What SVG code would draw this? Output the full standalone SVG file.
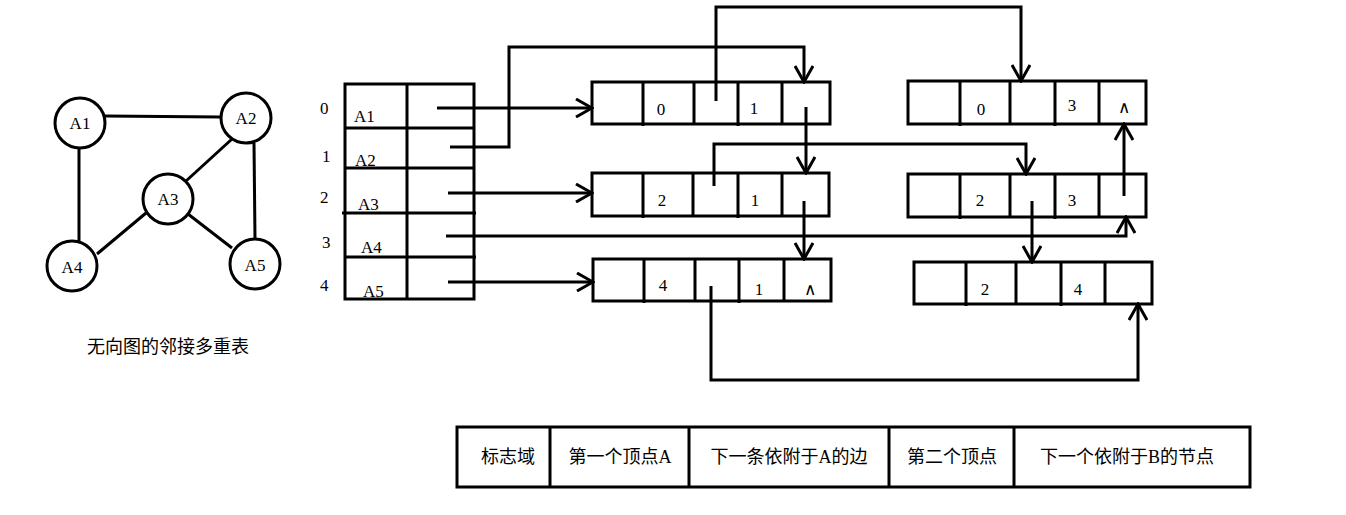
<svg xmlns="http://www.w3.org/2000/svg" width="1346" height="515" viewBox="0 0 1346 515">
<defs>
<style>
.b{fill:none;stroke:#000;stroke-width:3}
.l{fill:none;stroke:#000;stroke-width:3}
.t{font-family:"Liberation Serif",serif;font-size:17px;fill:#000}
.c{font-family:"Liberation Serif","Noto Sans CJK SC",serif;font-size:18px;fill:#000}
</style>
<marker id="a" viewBox="0 0 20 20" refX="18" refY="10" markerWidth="20" markerHeight="20" markerUnits="userSpaceOnUse" orient="auto">
<path d="M2,1 L18,10 L2,19" fill="none" stroke="#000" stroke-width="3"/>
</marker>
</defs>
<rect width="1346" height="515" fill="#fff"/>
<g id="graph">
<g class="l"><line x1="105" y1="116" x2="221" y2="117"/><line x1="79" y1="148" x2="79" y2="242"/><line x1="254" y1="143" x2="255" y2="239"/><line x1="232" y1="139" x2="186" y2="181"/><line x1="97" y1="254" x2="146" y2="213"/><line x1="188" y1="214" x2="232" y2="248"/></g>
<g id="A1"><circle class="b" cx="80" cy="123" r="25"/><text class="t" x="80" y="129" text-anchor="middle">A1</text></g>
<g id="A2"><circle class="b" cx="246" cy="118" r="25"/><text class="t" x="246" y="124" text-anchor="middle">A2</text></g>
<g id="A3"><circle class="b" cx="168" cy="199" r="25"/><text class="t" x="168" y="205" text-anchor="middle">A3</text></g>
<g id="A4"><circle class="b" cx="72" cy="266" r="25"/><text class="t" x="72" y="273" text-anchor="middle">A4</text></g>
<g id="A5"><circle class="b" cx="255" cy="264" r="25"/><text class="t" x="255" y="271" text-anchor="middle">A5</text></g>
<text class="c" x="168" y="353" text-anchor="middle">无向图的邻接多重表</text>
</g>
<g id="vertexTable">
<path class="b" d="M345,84 H474 V299 H345 Z M407,84 V299 M345,128 H474 M345,168 H474 M342,213 H476 M345,257 H476"/>
<text class="t" x="320" y="114">0</text><text class="t" x="322" y="162">1</text><text class="t" x="320" y="203">2</text><text class="t" x="322" y="248">3</text><text class="t" x="320" y="291">4</text>
<text class="t" x="354" y="122">A1</text><text class="t" x="355" y="166">A2</text><text class="t" x="358" y="210">A3</text><text class="t" x="361" y="253">A4</text><text class="t" x="363" y="297">A5</text>
</g>
<g id="e1"><path class="b" d="M592,82 H830 V124 H592 Z M643,82 V126 M694,82 V124 M738,82 V126 M782,82 V124"/><text class="t" x="661" y="115" text-anchor="middle">0</text><text class="t" x="754" y="114" text-anchor="middle">1</text></g>
<g id="e2"><path class="b" d="M592,173 H829 V216 H592 Z M643,173 V218 M693,173 V216 M738,173 V218 M782,173 V216"/><text class="t" x="662" y="206" text-anchor="middle">2</text><text class="t" x="755" y="206" text-anchor="middle">1</text></g>
<g id="e3"><path class="b" d="M593,259 H831 V301 H593 Z M644,259 V303 M695,259 V301 M739,259 V303 M784,259 V301"/><text class="t" x="663" y="291" text-anchor="middle">4</text><text class="t" x="759" y="295" text-anchor="middle">1</text><text class="t" x="810" y="295" text-anchor="middle">∧</text></g>
<g id="e4"><path class="b" d="M908,81 H1146 V124 H908 Z M960,81 V126 M1010,81 V124 M1055,81 V126 M1099,81 V124"/><text class="t" x="981" y="115" text-anchor="middle">0</text><text class="t" x="1072" y="111" text-anchor="middle">3</text><text class="t" x="1124" y="113" text-anchor="middle">∧</text></g>
<g id="e5"><path class="b" d="M908,174 H1146 V217 H908 Z M960,174 V219 M1010,174 V217 M1055,174 V219 M1099,174 V217"/><text class="t" x="980" y="206" text-anchor="middle">2</text><text class="t" x="1072" y="206" text-anchor="middle">3</text></g>
<g id="e6"><path class="b" d="M914,262 H1152 V304 H914 Z M966,262 V306 M1016,262 V304 M1061,262 V306 M1105,262 V304"/><text class="t" x="985" y="295" text-anchor="middle">2</text><text class="t" x="1078" y="295" text-anchor="middle">4</text></g>
<g id="connectors" class="l">
<path d="M437,108 H592" marker-end="url(#a)"/>
<path d="M450,147 H509 V47 H804 V82" marker-end="url(#a)"/>
<path d="M716,101 V7 H1021 V81" marker-end="url(#a)"/>
<path d="M806,107 V173" marker-end="url(#a)"/>
<path d="M448,193 H592" marker-end="url(#a)"/>
<path d="M714,186 V144 H1026 V174" marker-end="url(#a)"/>
<path d="M804,201 V259" marker-end="url(#a)"/>
<path d="M446,236 H1126 V217" marker-end="url(#a)"/>
<path d="M1124,196 V124" marker-end="url(#a)"/>
<path d="M1032,201 V262" marker-end="url(#a)"/>
<path d="M448,282 H593" marker-end="url(#a)"/>
<path d="M711,286 V380 H1138 V304" marker-end="url(#a)"/>
</g>
<g id="legend">
<path class="b" d="M457,427 H1250 V487 H457 Z M550,427 V487 M689,427 V487 M889,427 V487 M1014,427 V487"/>
<text class="c" x="508" y="463" text-anchor="middle">标志域</text>
<text class="c" x="620" y="463" text-anchor="middle">第一个顶点A</text>
<text class="c" x="789" y="463" text-anchor="middle">下一条依附于A的边</text>
<text class="c" x="952" y="463" text-anchor="middle">第二个顶点</text>
<text class="c" x="1127" y="463" text-anchor="middle">下一个依附于B的节点</text>
</g>
</svg>
